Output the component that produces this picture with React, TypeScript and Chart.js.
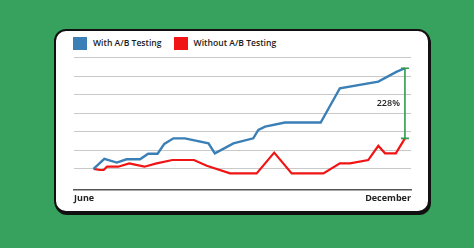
import React, { useEffect, useRef } from "react";
import { Chart, registerables } from "chart.js";

Chart.register(...registerables);

// Days since the start of June, scaled 0..100 across the June–December span
const withTestingX = [5.8, 9.0, 12.7, 15.6, 19.6, 22.0, 24.8, 26.8, 29.5, 32.9, 39.9, 41.8, 47.3, 53.2, 54.7, 56.7, 62.6, 73.2, 78.9, 90.3, 95.8, 98.2];
const withTestingY = [1.0, 1.54, 1.34, 1.52, 1.52, 1.82, 1.82, 2.35, 2.65, 2.65, 2.38, 1.84, 2.38, 2.65, 3.1, 3.28, 3.5, 3.5, 5.35, 5.71, 6.25, 6.43];

const withoutTestingX = [5.8, 7.7, 8.8, 9.8, 13.1, 16.4, 20.9, 24.5, 29.2, 35.6, 39.4, 46.3, 54.2, 59.4, 64.6, 74.0, 78.9, 81.9, 87.3, 90.3, 92.3, 95.5, 98.2];
const withoutTestingY = [1.0, 0.94, 0.94, 1.12, 1.12, 1.3, 1.12, 1.3, 1.48, 1.48, 1.17, 0.76, 0.76, 1.88, 0.76, 0.76, 1.3, 1.3, 1.48, 2.25, 1.84, 1.84, 2.65];

const seriesNames = ["With A/B Testing", "Without A/B Testing"];
const seriesColors = ["#3a7fb6", "#f01414"];
const axisLabels = ["June", "December"];
const gapLabel = "228%";

const FONT = "'Open Sans', 'Noto Sans', sans-serif";

// Green bracket between the two series' final values, with the uplift label
const upliftBracket = {
  id: "upliftBracket",
  afterDatasetsDraw(chart: any) {
    const { ctx, scales } = chart;
    const x = scales.x.getPixelForValue(withTestingX[withTestingX.length - 1]);
    const yTop = scales.y.getPixelForValue(withTestingY[withTestingY.length - 1]);
    const yBot = scales.y.getPixelForValue(withoutTestingY[withoutTestingY.length - 1]);
    ctx.save();
    ctx.strokeStyle = "#2f9a4c";
    ctx.lineWidth = 1.6;
    ctx.beginPath();
    ctx.moveTo(x, yTop);
    ctx.lineTo(x, yBot);
    ctx.moveTo(x - 4, yTop);
    ctx.lineTo(x + 4, yTop);
    ctx.moveTo(x - 4, yBot);
    ctx.lineTo(x + 4, yBot);
    ctx.stroke();
    ctx.fillStyle = "#222";
    ctx.font = `600 9px ${FONT}`;
    ctx.textAlign = "right";
    ctx.textBaseline = "middle";
    ctx.fillText(gapLabel, x - 5, (yTop + yBot) / 2);
    ctx.restore();
  },
};

export default function App() {
  const canvasRef = useRef<HTMLCanvasElement | null>(null);

  useEffect(() => {
    const canvas = canvasRef.current;
    if (!canvas) return;
    const toPoints = (xs: number[], ys: number[]) => xs.map((x, i) => ({ x, y: ys[i] }));
    const chart = new Chart(canvas, {
      type: "line",
      data: {
        datasets: [
          {
            label: seriesNames[0],
            data: toPoints(withTestingX, withTestingY),
            borderColor: seriesColors[0],
            borderWidth: 2.4,
            pointRadius: 0,
            tension: 0,
          },
          {
            label: seriesNames[1],
            data: toPoints(withoutTestingX, withoutTestingY),
            borderColor: seriesColors[1],
            borderWidth: 2.2,
            pointRadius: 0,
            tension: 0,
          },
        ],
      },
      options: {
        animation: false,
        responsive: false,
        devicePixelRatio: 1,
        layout: { padding: { left: 74, right: 63, top: 57.7, bottom: 0 } },
        plugins: { legend: { display: false }, tooltip: { enabled: false } },
        scales: {
          x: {
            type: "linear",
            min: 0,
            max: 100,
            afterBuildTicks: (s: any) => {
              s.ticks = [{ value: 0 }, { value: 100 }];
            },
            afterFit: (s: any) => {
              s.height = 248 - 189.3;
            },
            grid: { display: false, drawTicks: false },
            border: { display: true, color: "#555", width: 1.5 },
            ticks: {
              align: "inner",
              padding: 4,
              maxRotation: 0,
              color: "#222",
              font: { family: FONT, size: 9, weight: "bold" },
              callback: (v: any) => (v === 0 ? axisLabels[0] : axisLabels[1]),
            },
          },
          y: {
            min: -0.1,
            max: 7,
            afterBuildTicks: (s: any) => {
              s.ticks = [1, 2, 3, 4, 5, 6, 7].map((value) => ({ value }));
            },
            afterFit: (s: any) => {
              s.width = 0;
            },
            grid: { color: "#c9c9c9", lineWidth: 1, drawTicks: false },
            border: { display: false },
            ticks: { display: false },
          },
        },
      },
      plugins: [upliftBracket],
    });
    return () => chart.destroy();
  }, []);

  const legendItem = (i: number, gap: number) => (
    <div style={{ display: "flex", alignItems: "center", marginRight: gap }}>
      <span
        style={{
          display: "inline-block",
          width: 14,
          height: 13,
          background: seriesColors[i],
          marginRight: 6,
        }}
      />
      <span style={{ fontFamily: FONT, fontWeight: 600, fontSize: 8.6, color: "#1a1a1a" }}>
        {seriesNames[i]}
      </span>
    </div>
  );

  return (
    <div
      style={{
        position: "absolute",
        left: 0,
        top: 0,
        width: 474,
        height: 248,
        background: "#36a25e",
        overflow: "hidden",
      }}
    >
      <div
        style={{
          position: "absolute",
          left: 54,
          top: 29,
          width: 372,
          height: 180,
          background: "#fff",
          border: "2px solid #111",
          borderRadius: 12,
          boxShadow: "1px 2px 0 #111",
        }}
      />
      <div
        style={{
          position: "absolute",
          left: 73,
          top: 36,
          height: 14,
          display: "flex",
          alignItems: "center",
        }}
      >
        {legendItem(0, 12)}
        {legendItem(1, 0)}
      </div>
      <canvas
        ref={canvasRef}
        width={474}
        height={248}
        style={{ position: "absolute", left: 0, top: 0, width: 474, height: 248 }}
      />
    </div>
  );
}
